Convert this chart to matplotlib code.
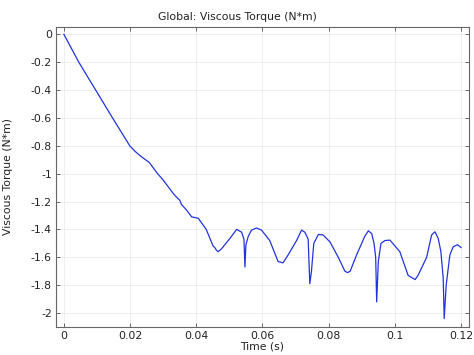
"""
    Global: Viscous Torque vs time
"""
import numpy as np
import matplotlib.pyplot as plt

# data
time_s = [0, 0.0045, 0.0096, 0.0147, 0.0199, 0.0215, 0.0235, 0.0258, 0.0283, 0.0298,
          0.0333, 0.0345, 0.0350, 0.0355, 0.0370, 0.0386, 0.0406, 0.0430, 0.0451, 0.0456,
          0.0461, 0.0466, 0.0476, 0.0500, 0.0522, 0.0537, 0.0544, 0.0547, 0.0550, 0.0557,
          0.0567, 0.0582, 0.0597, 0.0622, 0.0647, 0.0662, 0.0677, 0.0703, 0.0718, 0.0728,
          0.0738, 0.0743, 0.0748, 0.0755, 0.0769, 0.0783, 0.0804, 0.0829, 0.0849, 0.0857,
          0.0865, 0.0884, 0.0909, 0.0920, 0.0930, 0.0937, 0.0942, 0.0945, 0.0950, 0.0958,
          0.0970, 0.0985, 0.1015, 0.1040, 0.1061, 0.1070, 0.1096, 0.1111, 0.1121, 0.1131,
          0.1139, 0.1146, 0.1149, 0.1155, 0.1166, 0.1176, 0.1189, 0.1200]
torque = [0, -0.20, -0.40, -0.60, -0.80, -0.84, -0.88, -0.92, -1.00, -1.04,
          -1.15, -1.18, -1.19, -1.22, -1.26, -1.31, -1.32, -1.40, -1.52, -1.53,
          -1.55, -1.56, -1.54, -1.47, -1.40, -1.42, -1.47, -1.67, -1.51, -1.45,
          -1.405, -1.39, -1.405, -1.48, -1.63, -1.64, -1.585, -1.48, -1.405, -1.42,
          -1.47, -1.79, -1.70, -1.50, -1.436, -1.44, -1.49, -1.60, -1.70, -1.71,
          -1.70, -1.585, -1.45, -1.41, -1.43, -1.50, -1.60, -1.92, -1.63, -1.50,
          -1.48, -1.477, -1.56, -1.73, -1.76, -1.73, -1.60, -1.44, -1.417, -1.465,
          -1.56, -1.75, -2.04, -1.80, -1.585, -1.525, -1.51, -1.53]

xticks = [0, 0.02, 0.04, 0.06, 0.08, 0.1, 0.12]
xtick_labels = ['0', '0.02', '0.04', '0.06', '0.08', '0.1', '0.12']
yticks = [0, -0.2, -0.4, -0.6, -0.8, -1, -1.2, -1.4, -1.6, -1.8, -2]
ytick_labels = ['0', '-0.2', '-0.4', '-0.6', '-0.8', '-1', '-1.2', '-1.4', '-1.6', '-1.8', '-2']

plt.rcParams['font.family'] = 'DejaVu Sans'
fig = plt.figure(figsize=(4.74, 3.55), dpi=100, facecolor='white')
ax = fig.add_axes([0.118, 0.079, 0.8715, 0.846])

ax.plot(time_s, torque, color='#2233dd', linewidth=0.9)

ax.set_xlim(-0.0024, 0.1224)
ax.set_ylim(-2.10, 0.055)
ax.set_xticks(xticks)
ax.set_xticklabels(xtick_labels)
ax.set_yticks(yticks)
ax.set_yticklabels(ytick_labels)

ax.grid(color='#ececec', linewidth=0.6)
ax.tick_params(direction='in', top=True, right=True, length=3, width=0.6,
               color='#555555', labelsize=7.8, labelcolor='#222222', pad=3)
for s in ax.spines.values():
    s.set_color('#666666')
    s.set_linewidth(0.8)

# title centred on the figure, not the axes
fig.text(0.5, 0.952, 'Global: Viscous Torque (N*m)', ha='center', va='center',
         fontsize=7.8, color='#222222')
ax.set_xlabel('Time (s)', fontsize=7.8, color='#222222', labelpad=0.5)
ax.set_ylabel('Viscous Torque (N*m)', fontsize=7.8, color='#222222', labelpad=13)

fig.savefig('out.png', dpi=100)
